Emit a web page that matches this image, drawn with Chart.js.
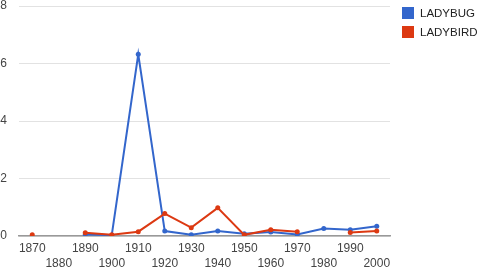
<!DOCTYPE html>
<html>
<head>
<meta charset="utf-8">
<script src="https://cdn.jsdelivr.net/npm/chart.js@4"></script>
<style>
    body { margin: 0; background: #fff; }
    .wrap { position: relative; width: 478px; height: 269px; }
    .legend { position: absolute; left: 402px; top: 7px; font: 11.5px 'Liberation Sans', Arial, sans-serif; color: #222; }
    .legend-item { display: flex; align-items: center; height: 12px; margin-bottom: 7px; white-space: nowrap; }
    .legend-item span.box { width: 12px; height: 12px; margin-right: 6px; }
</style>
</head>
<body>
<div class="wrap">
    <canvas id="chart" width="478" height="269"></canvas>
    <div class="legend">
        <div class="legend-item"><span class="box" style="background:#3366cc"></span>LADYBUG</div>
        <div class="legend-item"><span class="box" style="background:#dc3912"></span>LADYBIRD</div>
    </div>
</div>
<script>
// Data
const years = ['1870', '1880', '1890', '1900', '1910', '1920', '1930', '1940', '1950', '1960', '1970', '1980', '1990', '2000'];
const ladybug = [null, null, 0.05, 0.03, 6.32, 0.17, 0.04, 0.17, 0.08, 0.14, 0.05, 0.26, 0.22, 0.34];
const ladybird = [0.04, null, 0.11, 0.04, 0.15, 0.78, 0.29, 0.98, 0.04, 0.22, 0.15, null, 0.12, 0.17];
const yTicks = [0, 2, 4, 6, 8];

const tickFont = { family: "'Liberation Sans', Arial, sans-serif", size: 12, lineHeight: 1.25 };

const ctx = document.getElementById('chart').getContext('2d');
new Chart(ctx, {
    type: 'line',
    data: {
        labels: years,
        datasets: [
            { label: 'LADYBUG', data: ladybug, borderColor: '#3366cc', backgroundColor: '#3366cc', borderWidth: 2, pointRadius: 2.5, pointBorderWidth: 0, order: 2, spanGaps: false },
            { label: 'LADYBIRD', data: ladybird, borderColor: '#dc3912', backgroundColor: '#dc3912', borderWidth: 2, pointRadius: 2.5, pointBorderWidth: 0, order: 1, spanGaps: false }
        ]
    },
    options: {
        responsive: false,
        animation: false,
        devicePixelRatio: 1,
        layout: { padding: { top: 0, right: 88, left: 0, bottom: 0 } },
        plugins: { legend: { display: false }, tooltip: { enabled: false } },
        scales: {
            x: {
                offset: true,
                grid: { display: false, drawTicks: false },
                border: { color: '#999', width: 1.5 },
                ticks: {
                    autoSkip: false,
                    maxRotation: 0,
                    padding: 5,
                    color: '#444',
                    font: tickFont,
                    callback: (v, i) => i % 2 ? ['', years[i]] : years[i]
                },
                afterFit: s => { s.height = 33; }
            },
            y: {
                min: 0,
                max: 8,
                afterBuildTicks: s => { s.ticks = yTicks.map(v => ({ value: v })); },
                grid: { color: '#e2e2e2', drawTicks: false },
                border: { display: false },
                ticks: { padding: 12, color: '#444', font: { ...tickFont, lineHeight: 1 } },
                afterFit: s => { s.width = 19; s.paddingTop = 6; s.paddingBottom = 6; }
            }
        }
    }
});
</script>
</body>
</html>
